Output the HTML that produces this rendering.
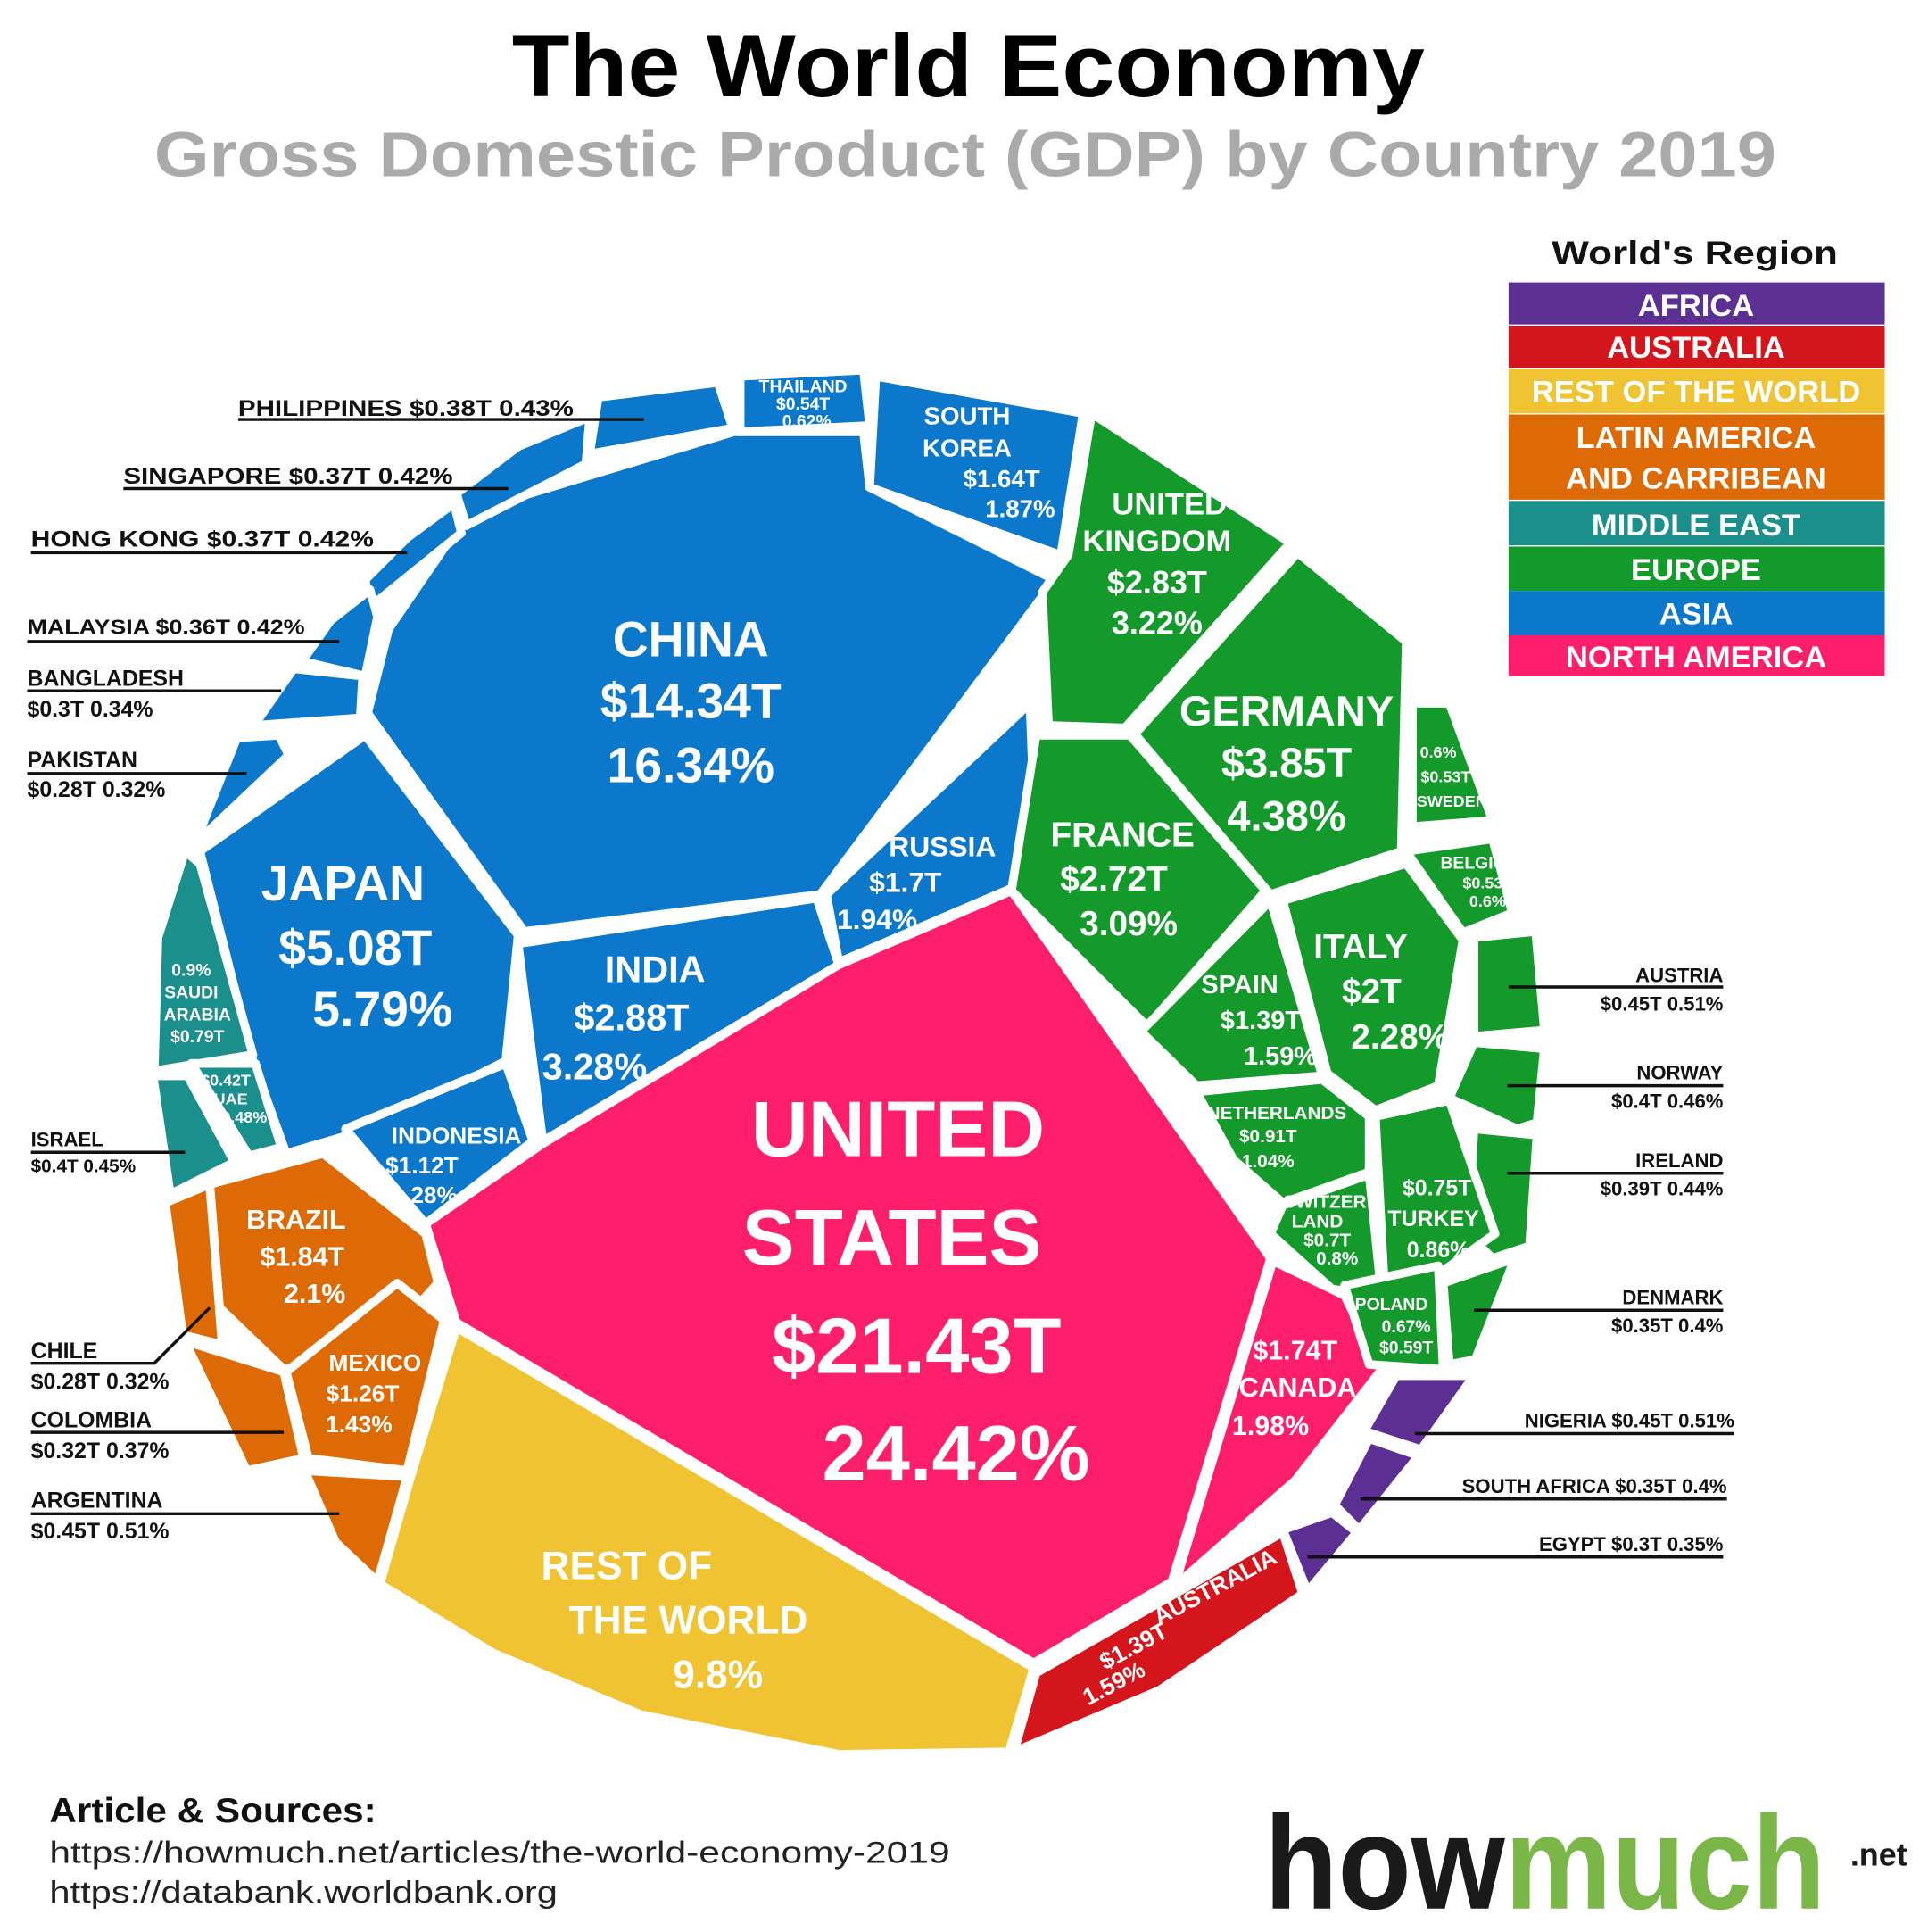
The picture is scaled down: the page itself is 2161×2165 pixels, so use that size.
<!DOCTYPE html>
<html><head><meta charset="utf-8"><style>
html,body{margin:0;padding:0;background:#fff}
svg{display:block}
text{font-family:"Liberation Sans",sans-serif;font-weight:bold}
.w{fill:#fff;text-anchor:middle}
.k{fill:#111;font-size:16px}
.c polygon{stroke:#fff;stroke-width:7;stroke-linejoin:round}
</style></head><body>
<svg width="2161" height="2165" viewBox="0 0 1563 1566" xmlns="http://www.w3.org/2000/svg">
<rect width="1563" height="1566" fill="#fff"/>
<text x="415" y="78" font-size="72" fill="#000" textLength="740" lengthAdjust="spacingAndGlyphs">The World Economy</text>
<text x="125" y="143" font-size="52" fill="#aaa" textLength="1315" lengthAdjust="spacingAndGlyphs">Gross Domestic Product (GDP) by Country 2019</text>

<g class="c">
<!-- Asia -->
<g fill="#0b78cc">
<polygon points="380,415 595,350 700,350 705,395 855,470 665,725 425,755 298,578 315,510"/>
<polygon points="710,305 878,335 860,450 705,395"/>
<polygon points="600,305 700,300 705,345 600,350"/>
<polygon points="478,368 485,322 582,310 594,347"/>
<polygon points="378,426 475,376 478,338 420,362 370,400"/>
<polygon points="300,492 374,432 368,408 330,436 296,470"/>
<polygon points="245,536 296,548 306,500 300,478 268,503"/>
<polygon points="206,588 292,582 294,548 238,542"/>
<polygon points="158,684 234,612 226,596 192,598"/>
<polygon points="162,690 296,596 420,758 410,860 300,915 232,935 205,860"/>
<polygon points="280,915 410,862 432,925 345,992"/>
<polygon points="420,765 662,728 680,782 440,925"/>
<polygon points="670,725 835,570 840,700 820,720 680,780"/>
</g>
<!-- Middle East -->
<g fill="#1b8f8c">
<polygon points="150,690 162,700 205,855 125,868 128,760"/>
<polygon points="155,862 207,862 228,930 202,937"/>
<polygon points="124,872 152,872 190,942 138,968"/>
</g>
<!-- Latin -->
<g fill="#dd6a05">
<polygon points="170,960 262,935 345,1000 355,1040 310,1090 230,1110 178,1060"/>
<polygon points="134,975 170,960 180,1090 148,1082"/>
<polygon points="150,1087 230,1112 246,1182 200,1192"/>
<polygon points="232,1112 322,1040 360,1070 330,1192 250,1182"/>
<polygon points="247,1192 330,1197 306,1282 272,1250"/>
</g>
<!-- NA -->
<g fill="#fd1f6b">
<polygon points="345,992 440,927 680,782 820,722 1030,1020 950,1282 838,1348 370,1072"/>
<polygon points="1032,1022 1090,1050 1120,1110 1050,1200 952,1286"/>
</g>
<!-- RotW -->
<polygon fill="#f0c332" points="370,1076 838,1352 818,1420 680,1422 520,1390 400,1340 308,1284 332,1200"/>
<!-- Australia -->
<polygon fill="#d4151b" points="840,1356 1040,1242 1056,1292 940,1370 822,1420"/>
<!-- Africa -->
<g fill="#5c2f92">
<polygon points="1040,1240 1080,1226 1100,1242 1060,1290"/>
<polygon points="1082,1220 1110,1166 1150,1180 1102,1240"/>
<polygon points="1106,1160 1132,1115 1195,1115 1152,1175"/>
</g>
<!-- Europe -->
<g fill="#139a2b">
<polygon points="885,335 1046,440 912,590 850,588 845,480 866,450"/>
<polygon points="920,595 1052,448 1140,520 1136,690 1030,725"/>
<polygon points="840,596 916,596 1026,722 930,832 820,722"/>
<polygon points="925,836 1030,730 1072,872 970,880"/>
<polygon points="1040,730 1140,700 1186,762 1166,880 1115,900 1076,870"/>
<polygon points="1145,570 1175,570 1210,665 1145,670"/>
<polygon points="1140,690 1210,680 1226,740 1186,756"/>
<polygon points="1195,760 1245,755 1252,835 1195,840"/>
<polygon points="1175,890 1195,845 1252,850 1246,910 1230,915"/>
<polygon points="1195,915 1246,920 1240,1010 1210,1020 1190,1000"/>
<polygon points="1170,1040 1228,1020 1196,1102 1175,1106"/>
<polygon points="970,885 1072,875 1110,905 1110,950 1040,975 1000,940"/>
<polygon points="1040,977 1110,952 1120,1050 1080,1045 1030,1000"/>
<polygon points="1115,905 1175,892 1212,1000 1170,1030 1122,1036"/>
<polygon points="1090,1042 1166,1026 1170,1110 1110,1106"/>
</g>
</g>

<!-- Big labels -->
<g class="w">
<text x="560" y="532" font-size="40">CHINA</text>
<text x="560" y="582" font-size="40">$14.34T</text>
<text x="560" y="634" font-size="40">16.34%</text>
<text x="278" y="730" font-size="40">JAPAN</text>
<text x="288" y="782" font-size="40">$5.08T</text>
<text x="310" y="832" font-size="40">5.79%</text>
<text x="728" y="937" font-size="64">UNITED</text>
<text x="723" y="1025" font-size="64">STATES</text>
<text x="743" y="1113" font-size="64">$21.43T</text>
<text x="775" y="1200" font-size="64">24.42%</text>
<text x="1043" y="588" font-size="34">GERMANY</text>
<text x="1043" y="630" font-size="34">$3.85T</text>
<text x="1043" y="673" font-size="34">4.38%</text>
<text x="948" y="417" font-size="25">UNITED</text>
<text x="938" y="447" font-size="25">KINGDOM</text>
<text x="938" y="481" font-size="26">$2.83T</text>
<text x="938" y="514" font-size="26">3.22%</text>
<text x="910" y="686" font-size="28">FRANCE</text>
<text x="903" y="722" font-size="28">$2.72T</text>
<text x="915" y="758" font-size="28">3.09%</text>
<text x="1103" y="777" font-size="28">ITALY</text>
<text x="1112" y="813" font-size="28">$2T</text>
<text x="1135" y="850" font-size="28">2.28%</text>
<text x="531" y="796" font-size="30">INDIA</text>
<text x="512" y="835" font-size="30">$2.88T</text>
<text x="482" y="875" font-size="30">3.28%</text>
<text x="508" y="1280" font-size="32">REST OF</text>
<text x="558" y="1324" font-size="32">THE WORLD</text>
<text x="582" y="1368" font-size="32">9.8%</text>
<text x="240" y="996" font-size="22">BRAZIL</text>
<text x="245" y="1026" font-size="22">$1.84T</text>
<text x="255" y="1056" font-size="22">2.1%</text>
<text x="304" y="1111" font-size="19">MEXICO</text>
<text x="294" y="1136" font-size="19">$1.26T</text>
<text x="291" y="1161" font-size="19">1.43%</text>
<text x="764" y="694" font-size="23">RUSSIA</text>
<text x="734" y="723" font-size="23">$1.7T</text>
<text x="711" y="753" font-size="23">1.94%</text>
<text x="784" y="344" font-size="20">SOUTH</text>
<text x="784" y="370" font-size="20">KOREA</text>
<text x="812" y="395" font-size="20">$1.64T</text>
<text x="827" y="419" font-size="20">1.87%</text>
<text x="651" y="318" font-size="14">THAILAND</text>
<text x="651" y="332" font-size="14">$0.54T</text>
<text x="654" y="346" font-size="14">0.62%</text>
<text x="370" y="927" font-size="19">INDONESIA</text>
<text x="342" y="951" font-size="19">$1.12T</text>
<text x="344" y="975" font-size="19">1.28%</text>
<text x="1050" y="1102" font-size="22">$1.74T</text>
<text x="1052" y="1132" font-size="22">CANADA</text>
<text x="1030" y="1163" font-size="22">1.98%</text>
<text x="1005" y="805" font-size="21">SPAIN</text>
<text x="1022" y="834" font-size="21">$1.39T</text>
<text x="1038" y="863" font-size="21">1.59%</text>
<text x="1035" y="907" font-size="15">NETHERLANDS</text>
<text x="1028" y="926" font-size="15">$0.91T</text>
<text x="1028" y="946" font-size="15">1.04%</text>
<text x="1165" y="969" font-size="18">$0.75T</text>
<text x="1162" y="994" font-size="18">TURKEY</text>
<text x="1166" y="1019" font-size="18">0.86%</text>
<text x="1074" y="979" font-size="15">SWITZER</text>
<text x="1068" y="995" font-size="15">LAND</text>
<text x="1076" y="1010" font-size="15">$0.7T</text>
<text x="1084" y="1025" font-size="15">0.8%</text>
<text x="1128" y="1062" font-size="14">POLAND</text>
<text x="1140" y="1080" font-size="14">0.67%</text>
<text x="1140" y="1097" font-size="14">$0.59T</text>
<text x="1166" y="614" font-size="13">0.6%</text>
<text x="1172" y="634" font-size="13">$0.53T</text>
<text x="1177" y="654" font-size="13">SWEDEN</text>
<text x="1200" y="704" font-size="14">BELGIUM</text>
<text x="1206" y="720" font-size="13">$0.53T</text>
<text x="1206" y="735" font-size="13">0.6%</text>
<text x="155" y="791" font-size="14">0.9%</text>
<text x="155" y="809" font-size="14">SAUDI</text>
<text x="160" y="827" font-size="14">ARABIA</text>
<text x="160" y="845" font-size="14">$0.79T</text>
<text x="183" y="880" font-size="13">$0.42T</text>
<text x="187" y="895" font-size="13">UAE</text>
<text x="198" y="910" font-size="13">0.48%</text>
<text x="988" y="1292" font-size="19" transform="rotate(-28 988 1292)">AUSTRALIA</text>
<text x="922" y="1340" font-size="19" transform="rotate(-28 922 1340)">$1.39T</text>
<text x="906" y="1370" font-size="19" transform="rotate(-28 906 1370)">1.59%</text>
</g>

<!-- Leader labels -->
<g stroke="#111" stroke-width="2.5" fill="none">
<path d="M193,340 H522"/><path d="M100,396 H412"/><path d="M25,448 H330"/><path d="M22,520 H275"/>
<path d="M22,560 H228"/><path d="M22,627 H200"/><path d="M25,934 H150"/>
<path d="M25,1105 H125 L170,1060"/><path d="M25,1161 H230"/><path d="M25,1227 H275"/>
<path d="M1223,800 H1397"/><path d="M1222,880 H1397"/><path d="M1222,951 H1397"/><path d="M1195,1062 H1397"/>
<path d="M1147,1162 H1406"/><path d="M1103,1215 H1400"/><path d="M1060,1262 H1397"/>
</g>
<g class="k">
<text x="193" y="337" font-size="18" textLength="272" lengthAdjust="spacingAndGlyphs">PHILIPPINES $0.38T  0.43%</text>
<text x="100" y="392" font-size="18" textLength="267" lengthAdjust="spacingAndGlyphs">SINGAPORE $0.37T  0.42%</text>
<text x="25" y="443" font-size="18" textLength="278" lengthAdjust="spacingAndGlyphs">HONG KONG  $0.37T  0.42%</text>
<text x="22" y="514" font-size="17" textLength="225" lengthAdjust="spacingAndGlyphs">MALAYSIA $0.36T 0.42%</text>
<text x="22" y="556" font-size="18">BANGLADESH</text><text x="22" y="581" font-size="18">$0.3T  0.34%</text>
<text x="22" y="622" font-size="18">PAKISTAN</text><text x="22" y="646" font-size="18">$0.28T  0.32%</text>
<text x="25" y="929" font-size="16">ISRAEL</text><text x="25" y="950" font-size="15">$0.4T 0.45%</text>
<text x="25" y="1101" font-size="18">CHILE</text><text x="25" y="1126" font-size="18">$0.28T  0.32%</text>
<text x="25" y="1157" font-size="18">COLOMBIA</text><text x="25" y="1182" font-size="18">$0.32T  0.37%</text>
<text x="25" y="1222" font-size="18">ARGENTINA</text><text x="25" y="1247" font-size="18">$0.45T 0.51%</text>
<g text-anchor="end">
<text x="1397" y="796">AUSTRIA</text><text x="1397" y="819">$0.45T 0.51%</text>
<text x="1397" y="875">NORWAY</text><text x="1397" y="898">$0.4T 0.46%</text>
<text x="1397" y="946">IRELAND</text><text x="1397" y="969">$0.39T 0.44%</text>
<text x="1397" y="1057">DENMARK</text><text x="1397" y="1080">$0.35T 0.4%</text>
<text x="1406" y="1157">NIGERIA $0.45T 0.51%</text>
<text x="1400" y="1210">SOUTH AFRICA $0.35T 0.4%</text>
<text x="1397" y="1257">EGYPT $0.3T  0.35%</text>
</g>
</g>

<!-- Legend -->
<text x="1258" y="214" font-size="27" fill="#111" textLength="232" lengthAdjust="spacingAndGlyphs">World's Region</text>
<rect x="1223" y="229" width="305" height="34" fill="#5c2f92"/>
<rect x="1223" y="264" width="305" height="34" fill="#d4151b"/>
<rect x="1223" y="299" width="305" height="36" fill="#f0c332"/>
<rect x="1223" y="336" width="305" height="69" fill="#dd6a05"/>
<rect x="1223" y="406" width="305" height="36" fill="#1b8f8c"/>
<rect x="1223" y="443" width="305" height="36" fill="#139a2b"/>
<rect x="1223" y="479" width="305" height="36" fill="#0b78cc"/>
<rect x="1223" y="515" width="305" height="33" fill="#fd1f6b"/>
<g class="w" font-size="25">
<text x="1375" y="256">AFRICA</text><text x="1375" y="290">AUSTRALIA</text><text x="1375" y="326">REST OF THE WORLD</text>
<text x="1375" y="363">LATIN AMERICA</text><text x="1375" y="396">AND CARRIBEAN</text><text x="1375" y="434">MIDDLE EAST</text>
<text x="1375" y="470">EUROPE</text><text x="1375" y="506">ASIA</text><text x="1375" y="541">NORTH AMERICA</text>
</g>

<!-- Footer -->
<text x="40" y="1477" font-size="28" fill="#111" textLength="265" lengthAdjust="spacingAndGlyphs">Article &amp; Sources:</text>
<text x="40" y="1510" font-size="25" fill="#222" style="font-weight:normal" textLength="730" lengthAdjust="spacingAndGlyphs">https://howmuch.net/articles/the-world-economy-2019</text>
<text x="40" y="1542" font-size="25" fill="#222" style="font-weight:normal" textLength="412" lengthAdjust="spacingAndGlyphs">https://databank.worldbank.org</text>
<text x="1025" y="1547" font-size="108" fill="#1a1a1a" textLength="455" lengthAdjust="spacingAndGlyphs">how<tspan fill="#7ab648">much</tspan></text>
<text x="1500" y="1512" font-size="26" fill="#1a1a1a">.net</text>
</svg>
</body></html>
